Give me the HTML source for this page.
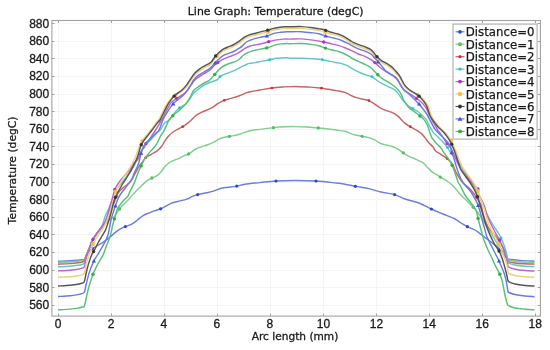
<!DOCTYPE html>
<html><head><meta charset="utf-8"><title>Line Graph</title>
<style>html,body{margin:0;padding:0;background:#fff;overflow:hidden}svg{display:block}</style>
</head><body><svg width="550" height="350" viewBox="0 0 550 350"><rect x="0" y="0" width="550" height="350" fill="#fff"/><path d="M51.9 305.5H540.4M51.9 287.5H540.4M51.9 270.5H540.4M51.9 252.5H540.4M51.9 234.5H540.4M51.9 217.5H540.4M51.9 199.5H540.4M51.9 182.5H540.4M51.9 164.5H540.4M51.9 146.5H540.4M51.9 129.5H540.4M51.9 111.5H540.4M51.9 94.5H540.4M51.9 76.5H540.4M51.9 58.5H540.4M51.9 41.5H540.4M51.9 23.5H540.4M58.5 20.5V316.1M111.5 20.5V316.1M164.5 20.5V316.1M217.5 20.5V316.1M270.5 20.5V316.1M323.5 20.5V316.1M376.5 20.5V316.1M429.5 20.5V316.1M482.5 20.5V316.1M535.5 20.5V316.1" stroke="#f5f5f5" stroke-width="1" fill="none"/><path d="M58.00 261.20C60.00 261.13 66.67 260.97 70.00 260.80C73.33 260.63 76.00 260.38 78.00 260.20C80.00 260.02 80.92 259.87 82.00 259.70C83.08 259.53 83.83 259.73 84.50 259.20C85.17 258.67 85.42 257.53 86.00 256.50C86.58 255.47 87.33 254.00 88.00 253.00C88.67 252.00 89.07 251.35 90.00 250.50C90.93 249.65 92.17 248.82 93.60 247.90C95.03 246.98 96.82 246.08 98.60 245.00C100.38 243.92 102.40 242.72 104.30 241.40C106.20 240.08 108.10 238.65 110.00 237.10C111.90 235.55 113.92 233.52 115.70 232.10C117.48 230.68 119.03 229.55 120.70 228.60C122.37 227.65 123.92 227.12 125.70 226.40C127.48 225.68 129.73 225.13 131.40 224.30C133.07 223.47 134.27 222.47 135.70 221.40C137.13 220.33 138.45 219.05 140.00 217.90C141.55 216.75 143.33 215.38 145.00 214.50C146.67 213.62 148.48 213.20 150.00 212.60C151.52 212.00 152.20 211.58 154.10 210.90C156.00 210.22 158.67 209.72 161.40 208.50C164.13 207.28 167.78 204.77 170.50 203.60C173.22 202.43 174.98 202.25 177.70 201.50C180.42 200.75 184.37 199.95 186.80 199.10C189.23 198.25 190.42 197.17 192.30 196.40C194.18 195.63 195.68 195.12 198.10 194.50C200.52 193.88 204.13 193.30 206.80 192.70C209.47 192.10 211.67 191.65 214.10 190.90C216.53 190.15 218.98 188.80 221.40 188.20C223.82 187.60 226.03 187.65 228.60 187.30C231.17 186.95 234.07 186.62 236.80 186.10C239.53 185.58 241.13 184.78 245.00 184.20C248.87 183.62 254.83 183.13 260.00 182.60C265.17 182.07 270.17 181.37 276.00 181.00C281.83 180.63 288.33 180.40 295.00 180.40C301.67 180.40 309.17 180.57 316.00 181.00C322.83 181.43 331.17 182.47 336.00 183.00C340.83 183.53 341.67 183.63 345.00 184.20C348.33 184.77 352.00 185.67 356.00 186.40C360.00 187.13 364.83 187.67 369.00 188.60C373.17 189.53 376.73 191.00 381.00 192.00C385.27 193.00 390.60 193.43 394.60 194.60C398.60 195.77 400.93 197.60 405.00 199.00C409.07 200.40 414.60 201.33 419.00 203.00C423.40 204.67 427.40 207.17 431.40 209.00C435.40 210.83 439.07 212.33 443.00 214.00C446.93 215.67 452.00 217.50 455.00 219.00C458.00 220.50 459.00 221.75 461.00 223.00C463.00 224.25 464.67 225.33 467.00 226.50C469.33 227.67 472.33 228.42 475.00 230.00C477.67 231.58 480.33 234.00 483.00 236.00C485.67 238.00 488.33 239.92 491.00 242.00C493.67 244.08 497.00 246.50 499.00 248.50C501.00 250.50 501.67 252.33 503.00 254.00C504.33 255.67 506.07 257.62 507.00 258.50C507.93 259.38 506.43 258.98 508.60 259.30C510.77 259.62 515.68 260.08 520.00 260.40C524.32 260.72 532.08 261.07 534.50 261.20" stroke="#6a7fe0" stroke-width="1.45" fill="none" stroke-linejoin="round"/><circle cx="92.4" cy="248.7" r="1.6" fill="#2a45e0"/><circle cx="125.4" cy="226.5" r="1.6" fill="#2a45e0"/><circle cx="160.6" cy="208.8" r="1.6" fill="#2a45e0"/><circle cx="197.7" cy="194.6" r="1.6" fill="#2a45e0"/><circle cx="236.8" cy="186.1" r="1.6" fill="#2a45e0"/><circle cx="276.0" cy="181.0" r="1.6" fill="#2a45e0"/><circle cx="316.0" cy="181.0" r="1.6" fill="#2a45e0"/><circle cx="355.4" cy="186.3" r="1.6" fill="#2a45e0"/><circle cx="394.6" cy="194.6" r="1.6" fill="#2a45e0"/><circle cx="431.4" cy="209.0" r="1.6" fill="#2a45e0"/><circle cx="467.4" cy="226.7" r="1.6" fill="#2a45e0"/><circle cx="499.8" cy="249.4" r="1.6" fill="#2a45e0"/><path d="M58.00 262.50C60.00 262.42 66.67 262.22 70.00 262.00C73.33 261.78 76.00 261.43 78.00 261.20C80.00 260.97 80.92 260.80 82.00 260.60C83.08 260.40 83.83 260.77 84.50 260.00C85.17 259.23 85.33 257.67 86.00 256.00C86.67 254.33 87.67 252.00 88.50 250.00C89.33 248.00 90.08 246.00 91.00 244.00C91.92 242.00 92.92 239.83 94.00 238.00C95.08 236.17 96.33 234.50 97.50 233.00C98.67 231.50 99.83 230.33 101.00 229.00C102.17 227.67 103.33 226.33 104.50 225.00C105.67 223.67 106.92 222.08 108.00 221.00C109.08 219.92 109.92 219.25 111.00 218.50C112.08 217.75 113.33 217.75 114.50 216.50C115.67 215.25 116.83 212.67 118.00 211.00C119.17 209.33 120.33 207.83 121.50 206.50C122.67 205.17 123.58 204.43 125.00 203.00C126.42 201.57 128.22 199.83 130.00 197.90C131.78 195.97 133.80 193.43 135.70 191.40C137.60 189.37 139.50 187.48 141.40 185.70C143.30 183.92 145.32 182.00 147.10 180.70C148.88 179.40 150.43 178.73 152.10 177.90C153.77 177.07 155.55 176.78 157.10 175.70C158.65 174.62 159.97 173.07 161.40 171.40C162.83 169.73 164.03 167.37 165.70 165.70C167.37 164.03 169.25 162.58 171.40 161.40C173.55 160.22 176.45 159.55 178.60 158.60C180.75 157.65 182.40 156.60 184.30 155.70C186.20 154.80 188.10 154.32 190.00 153.20C191.90 152.08 193.80 150.08 195.70 149.00C197.60 147.92 199.50 147.37 201.40 146.70C203.30 146.03 205.18 145.67 207.10 145.00C209.02 144.33 210.98 143.65 212.90 142.70C214.82 141.75 216.70 140.20 218.60 139.30C220.50 138.40 222.40 137.82 224.30 137.30C226.20 136.78 228.10 136.53 230.00 136.20C231.90 135.87 233.80 135.73 235.70 135.30C237.60 134.87 239.02 134.37 241.40 133.60C243.78 132.83 246.90 131.40 250.00 130.70C253.10 130.00 256.00 129.92 260.00 129.40C264.00 128.88 269.83 128.03 274.00 127.60C278.17 127.17 281.50 126.97 285.00 126.80C288.50 126.63 291.33 126.57 295.00 126.60C298.67 126.63 303.00 126.77 307.00 127.00C311.00 127.23 314.17 127.50 319.00 128.00C323.83 128.50 331.67 129.45 336.00 130.00C340.33 130.55 342.55 130.70 345.00 131.30C347.45 131.90 348.80 132.93 350.70 133.60C352.60 134.27 354.40 134.83 356.40 135.30C358.40 135.77 360.60 136.02 362.70 136.40C364.80 136.78 367.00 137.02 369.00 137.60C371.00 138.18 372.80 138.95 374.70 139.90C376.60 140.85 378.50 142.45 380.40 143.30C382.30 144.15 384.00 144.43 386.10 145.00C388.20 145.57 390.90 145.93 393.00 146.70C395.10 147.47 396.98 148.58 398.70 149.60C400.42 150.62 401.57 151.67 403.30 152.80C405.03 153.93 406.98 155.32 409.10 156.40C411.22 157.48 413.70 158.25 416.00 159.30C418.30 160.35 421.00 161.37 422.90 162.70C424.80 164.03 425.88 165.77 427.40 167.30C428.92 168.83 430.28 170.57 432.00 171.90C433.72 173.23 436.18 174.35 437.70 175.30C439.22 176.25 439.57 176.65 441.10 177.60C442.63 178.55 445.18 179.87 446.90 181.00C448.62 182.13 450.05 183.23 451.40 184.40C452.75 185.57 453.57 186.40 455.00 188.00C456.43 189.60 458.00 191.83 460.00 194.00C462.00 196.17 464.83 198.83 467.00 201.00C469.17 203.17 471.17 205.00 473.00 207.00C474.83 209.00 476.33 210.83 478.00 213.00C479.67 215.17 481.33 217.33 483.00 220.00C484.67 222.67 486.50 226.50 488.00 229.00C489.50 231.50 490.50 232.67 492.00 235.00C493.50 237.33 495.33 240.50 497.00 243.00C498.67 245.50 500.50 247.83 502.00 250.00C503.50 252.17 504.90 254.33 506.00 256.00C507.10 257.67 507.10 259.12 508.60 260.00C510.10 260.88 512.27 260.93 515.00 261.30C517.73 261.67 521.75 262.00 525.00 262.20C528.25 262.40 532.92 262.45 534.50 262.50" stroke="#80cf8c" stroke-width="1.45" fill="none" stroke-linejoin="round"/><circle cx="91.4" cy="243.1" r="1.65" fill="#50c060"/><circle cx="119.6" cy="208.9" r="1.65" fill="#50c060"/><circle cx="151.9" cy="178.0" r="1.65" fill="#50c060"/><circle cx="188.6" cy="153.9" r="1.65" fill="#50c060"/><circle cx="229.4" cy="136.3" r="1.65" fill="#50c060"/><circle cx="273.4" cy="127.7" r="1.65" fill="#50c060"/><circle cx="318.3" cy="127.9" r="1.65" fill="#50c060"/><circle cx="362.1" cy="136.3" r="1.65" fill="#50c060"/><circle cx="403.3" cy="152.8" r="1.65" fill="#50c060"/><circle cx="440.3" cy="177.1" r="1.65" fill="#50c060"/><circle cx="473.3" cy="207.3" r="1.65" fill="#50c060"/><circle cx="498.3" cy="244.8" r="1.65" fill="#50c060"/><path d="M58.00 264.20C60.00 264.10 66.67 263.83 70.00 263.60C73.33 263.37 76.00 263.07 78.00 262.80C80.00 262.53 80.92 262.30 82.00 262.00C83.08 261.70 83.83 262.00 84.50 261.00C85.17 260.00 85.42 257.67 86.00 256.00C86.58 254.33 87.33 252.67 88.00 251.00C88.67 249.33 89.17 248.00 90.00 246.00C90.83 244.00 91.83 241.17 93.00 239.00C94.17 236.83 95.67 234.83 97.00 233.00C98.33 231.17 99.67 229.83 101.00 228.00C102.33 226.17 103.83 224.17 105.00 222.00C106.17 219.83 107.00 217.33 108.00 215.00C109.00 212.67 110.00 210.00 111.00 208.00C112.00 206.00 112.83 205.50 114.00 203.00C115.17 200.50 116.33 195.67 118.00 193.00C119.67 190.33 122.00 188.82 124.00 187.00C126.00 185.18 128.28 184.10 130.00 182.10C131.72 180.10 132.87 177.50 134.30 175.00C135.73 172.50 137.17 169.37 138.60 167.10C140.03 164.83 141.72 162.97 142.90 161.40C144.08 159.83 144.28 158.88 145.70 157.70C147.12 156.52 149.50 155.43 151.40 154.30C153.30 153.17 155.38 152.23 157.10 150.90C158.82 149.57 160.37 148.02 161.70 146.30C163.03 144.58 163.95 142.32 165.10 140.60C166.25 138.88 167.27 137.43 168.60 136.00C169.93 134.57 171.38 133.23 173.10 132.00C174.82 130.77 177.18 129.55 178.90 128.60C180.62 127.65 181.88 127.25 183.40 126.30C184.92 125.35 186.75 123.87 188.00 122.90C189.25 121.93 189.62 121.70 190.90 120.50C192.18 119.30 193.95 117.07 195.70 115.70C197.45 114.33 199.50 113.25 201.40 112.30C203.30 111.35 205.18 110.87 207.10 110.00C209.02 109.13 210.98 108.25 212.90 107.10C214.82 105.95 216.70 104.23 218.60 103.10C220.50 101.97 222.40 101.05 224.30 100.30C226.20 99.55 227.72 99.27 230.00 98.60C232.28 97.93 235.52 97.17 238.00 96.30C240.48 95.43 242.90 94.17 244.90 93.40C246.90 92.63 247.48 92.27 250.00 91.70C252.52 91.13 256.33 90.62 260.00 90.00C263.67 89.38 268.17 88.50 272.00 88.00C275.83 87.50 279.17 87.27 283.00 87.00C286.83 86.73 290.83 86.40 295.00 86.40C299.17 86.40 303.83 86.73 308.00 87.00C312.17 87.27 315.33 87.40 320.00 88.00C324.67 88.60 331.83 89.87 336.00 90.60C340.17 91.33 342.55 91.62 345.00 92.40C347.45 93.18 348.80 94.43 350.70 95.30C352.60 96.17 354.30 96.93 356.40 97.60C358.50 98.27 361.30 98.83 363.30 99.30C365.30 99.77 366.68 99.73 368.40 100.40C370.12 101.07 371.78 102.15 373.60 103.30C375.42 104.45 377.40 106.17 379.30 107.30C381.20 108.43 382.90 109.25 385.00 110.10C387.10 110.95 389.80 111.43 391.90 112.40C394.00 113.37 395.90 114.57 397.60 115.90C399.30 117.23 400.87 119.15 402.10 120.40C403.33 121.65 403.73 122.40 405.00 123.40C406.27 124.40 407.87 125.32 409.70 126.40C411.53 127.48 414.00 128.65 416.00 129.90C418.00 131.15 420.18 132.57 421.70 133.90C423.22 135.23 423.95 136.48 425.10 137.90C426.25 139.32 427.27 140.88 428.60 142.40C429.93 143.92 431.97 145.62 433.10 147.00C434.23 148.38 433.87 149.32 435.40 150.70C436.93 152.08 440.20 153.87 442.30 155.30C444.40 156.73 446.28 157.78 448.00 159.30C449.72 160.82 451.27 162.22 452.60 164.40C453.93 166.58 454.87 170.12 456.00 172.40C457.13 174.68 458.23 176.33 459.40 178.10C460.57 179.87 461.23 181.18 463.00 183.00C464.77 184.82 468.00 187.00 470.00 189.00C472.00 191.00 473.67 193.17 475.00 195.00C476.33 196.83 477.00 198.33 478.00 200.00C479.00 201.67 480.00 202.17 481.00 205.00C482.00 207.83 482.83 213.33 484.00 217.00C485.17 220.67 486.67 224.50 488.00 227.00C489.33 229.50 490.50 230.17 492.00 232.00C493.50 233.83 495.50 236.00 497.00 238.00C498.50 240.00 499.67 241.83 501.00 244.00C502.33 246.17 504.00 248.83 505.00 251.00C506.00 253.17 506.40 255.25 507.00 257.00C507.60 258.75 507.27 260.50 508.60 261.50C509.93 262.50 512.27 262.62 515.00 263.00C517.73 263.38 521.75 263.62 525.00 263.80C528.25 263.98 532.92 264.05 534.50 264.10" stroke="#c86464" stroke-width="1.45" fill="none" stroke-linejoin="round"/><circle cx="92.7" cy="239.7" r="1.35" fill="#d03030"/><circle cx="116.4" cy="196.4" r="1.35" fill="#d03030"/><circle cx="145.7" cy="157.7" r="1.35" fill="#d03030"/><circle cx="182.7" cy="126.7" r="1.35" fill="#d03030"/><circle cx="224.3" cy="100.3" r="1.35" fill="#d03030"/><circle cx="272.0" cy="88.0" r="1.35" fill="#d03030"/><circle cx="321.5" cy="88.2" r="1.35" fill="#d03030"/><circle cx="368.9" cy="100.6" r="1.35" fill="#d03030"/><circle cx="410.3" cy="126.7" r="1.35" fill="#d03030"/><circle cx="447.2" cy="158.6" r="1.35" fill="#d03030"/><circle cx="476.6" cy="197.6" r="1.35" fill="#d03030"/><circle cx="498.9" cy="240.6" r="1.35" fill="#d03030"/><path d="M58.00 266.80C60.00 266.70 66.67 266.45 70.00 266.20C73.33 265.95 76.00 265.58 78.00 265.30C80.00 265.02 80.92 264.88 82.00 264.50C83.08 264.12 83.83 264.08 84.50 263.00C85.17 261.92 85.42 259.83 86.00 258.00C86.58 256.17 87.33 253.83 88.00 252.00C88.67 250.17 89.33 248.83 90.00 247.00C90.67 245.17 91.17 242.83 92.00 241.00C92.83 239.17 93.83 237.67 95.00 236.00C96.17 234.33 97.83 232.67 99.00 231.00C100.17 229.33 101.07 228.17 102.00 226.00C102.93 223.83 103.93 220.00 104.60 218.00C105.27 216.00 105.27 215.67 106.00 214.00C106.73 212.33 108.00 210.33 109.00 208.00C110.00 205.67 110.67 203.17 112.00 200.00C113.33 196.83 115.00 192.33 117.00 189.00C119.00 185.67 121.58 183.17 124.00 180.00C126.42 176.83 129.58 172.83 131.50 170.00C133.42 167.17 134.33 165.17 135.50 163.00C136.67 160.83 137.50 159.00 138.50 157.00C139.50 155.00 140.33 153.00 141.50 151.00C142.67 149.00 144.00 146.83 145.50 145.00C147.00 143.17 148.75 141.83 150.50 140.00C152.25 138.17 154.25 135.83 156.00 134.00C157.75 132.17 159.58 130.83 161.00 129.00C162.42 127.17 163.15 124.50 164.50 123.00C165.85 121.50 167.47 121.65 169.10 120.00C170.73 118.35 172.58 115.10 174.30 113.10C176.02 111.10 177.50 109.52 179.40 108.00C181.30 106.48 183.88 105.62 185.70 104.00C187.52 102.38 188.97 100.13 190.30 98.30C191.63 96.47 192.08 94.72 193.70 93.00C195.32 91.28 197.78 89.58 200.00 88.00C202.22 86.42 204.23 84.83 207.00 83.50C209.77 82.17 214.43 81.15 216.60 80.00C218.77 78.85 218.83 77.50 220.00 76.60C221.17 75.70 222.00 75.30 223.60 74.60C225.20 73.90 227.60 73.18 229.60 72.40C231.60 71.62 233.75 70.75 235.60 69.90C237.45 69.05 239.13 68.10 240.70 67.30C242.27 66.50 243.57 65.75 245.00 65.10C246.43 64.45 247.63 63.82 249.30 63.40C250.97 62.98 253.00 62.93 255.00 62.60C257.00 62.27 258.82 61.88 261.30 61.40C263.78 60.92 267.23 60.22 269.90 59.70C272.57 59.18 274.55 58.63 277.30 58.30C280.05 57.97 284.28 57.70 286.40 57.70C288.52 57.70 287.50 58.20 290.00 58.30C292.50 58.40 297.58 58.22 301.40 58.30C305.22 58.38 309.37 58.57 312.90 58.80C316.43 59.03 319.75 59.27 322.60 59.70C325.45 60.13 327.60 60.88 330.00 61.40C332.40 61.92 335.33 62.52 337.00 62.80C338.67 63.08 338.35 62.67 340.00 63.10C341.65 63.53 344.62 64.35 346.90 65.40C349.18 66.45 351.18 68.05 353.70 69.40C356.22 70.75 358.95 72.27 362.00 73.50C365.05 74.73 369.83 75.90 372.00 76.80C374.17 77.70 373.55 77.88 375.00 78.90C376.45 79.92 378.60 81.67 380.70 82.90C382.80 84.13 385.32 85.17 387.60 86.30C389.88 87.43 392.67 88.57 394.40 89.70C396.13 90.83 396.63 91.38 398.00 93.10C399.37 94.82 400.88 97.90 402.60 100.00C404.32 102.10 406.58 104.27 408.30 105.70C410.02 107.13 411.18 107.55 412.90 108.60C414.62 109.65 417.13 110.93 418.60 112.00C420.07 113.07 420.42 113.73 421.70 115.00C422.98 116.27 424.97 117.70 426.30 119.60C427.63 121.50 428.57 124.32 429.70 126.40C430.83 128.48 431.77 130.38 433.10 132.10C434.43 133.82 435.98 134.98 437.70 136.70C439.42 138.42 441.68 140.50 443.40 142.40C445.12 144.30 446.67 146.18 448.00 148.10C449.33 150.02 450.07 152.25 451.40 153.90C452.73 155.55 454.40 155.98 456.00 158.00C457.60 160.02 459.33 163.33 461.00 166.00C462.67 168.67 464.33 171.33 466.00 174.00C467.67 176.67 469.33 179.33 471.00 182.00C472.67 184.67 474.50 187.33 476.00 190.00C477.50 192.67 478.67 195.17 480.00 198.00C481.33 200.83 482.67 204.00 484.00 207.00C485.33 210.00 486.50 213.00 488.00 216.00C489.50 219.00 491.50 222.50 493.00 225.00C494.50 227.50 495.67 228.83 497.00 231.00C498.33 233.17 499.67 235.17 501.00 238.00C502.33 240.83 503.92 244.67 505.00 248.00C506.08 251.33 506.90 255.50 507.50 258.00C508.10 260.50 507.35 261.83 508.60 263.00C509.85 264.17 512.27 264.47 515.00 265.00C517.73 265.53 521.75 265.93 525.00 266.20C528.25 266.47 532.92 266.53 534.50 266.60" stroke="#62c6cc" stroke-width="1.45" fill="none" stroke-linejoin="round"/><circle cx="93.2" cy="238.7" r="1.45" fill="#20c8c8"/><circle cx="115.8" cy="191.1" r="1.45" fill="#20c8c8"/><circle cx="144.0" cy="147.0" r="1.45" fill="#20c8c8"/><circle cx="179.4" cy="108.0" r="1.45" fill="#20c8c8"/><circle cx="220.0" cy="76.6" r="1.45" fill="#20c8c8"/><circle cx="269.9" cy="59.7" r="1.45" fill="#20c8c8"/><circle cx="322.2" cy="59.6" r="1.45" fill="#20c8c8"/><circle cx="372.0" cy="76.8" r="1.45" fill="#20c8c8"/><circle cx="412.9" cy="108.6" r="1.45" fill="#20c8c8"/><circle cx="447.6" cy="147.5" r="1.45" fill="#20c8c8"/><circle cx="476.7" cy="191.2" r="1.45" fill="#20c8c8"/><circle cx="501.0" cy="238.0" r="1.45" fill="#20c8c8"/><path d="M58.00 270.90C60.00 270.78 66.67 270.48 70.00 270.20C73.33 269.92 76.00 269.53 78.00 269.20C80.00 268.87 80.92 268.65 82.00 268.20C83.08 267.75 83.90 267.85 84.50 266.50C85.10 265.15 85.18 262.02 85.60 260.10C86.02 258.18 86.27 257.18 87.00 255.00C87.73 252.82 89.00 249.50 90.00 247.00C91.00 244.50 91.83 242.33 93.00 240.00C94.17 237.67 95.83 234.83 97.00 233.00C98.17 231.17 99.00 230.33 100.00 229.00C101.00 227.67 102.00 226.50 103.00 225.00C104.00 223.50 105.00 222.50 106.00 220.00C107.00 217.50 108.00 213.33 109.00 210.00C110.00 206.67 111.00 203.50 112.00 200.00C113.00 196.50 113.67 192.17 115.00 189.00C116.33 185.83 118.17 183.50 120.00 181.00C121.83 178.50 124.33 176.00 126.00 174.00C127.67 172.00 128.67 170.83 130.00 169.00C131.33 167.17 132.67 164.67 134.00 163.00C135.33 161.33 136.83 160.83 138.00 159.00C139.17 157.17 140.00 154.17 141.00 152.00C142.00 149.83 142.67 148.00 144.00 146.00C145.33 144.00 147.17 142.50 149.00 140.00C150.83 137.50 152.78 134.52 155.00 131.00C157.22 127.48 160.42 122.25 162.30 118.90C164.18 115.55 164.87 113.57 166.30 110.90C167.73 108.23 169.18 105.00 170.90 102.90C172.62 100.80 174.70 99.63 176.60 98.30C178.50 96.97 180.58 96.13 182.30 94.90C184.02 93.67 185.38 92.62 186.90 90.90C188.42 89.18 190.07 86.42 191.40 84.60C192.73 82.78 192.98 81.72 194.90 80.00C196.82 78.28 200.43 75.92 202.90 74.30C205.37 72.68 207.68 71.90 209.70 70.30C211.72 68.70 213.55 66.07 215.00 64.70C216.45 63.33 216.97 63.03 218.40 62.10C219.83 61.17 221.73 60.02 223.60 59.10C225.47 58.18 227.60 57.38 229.60 56.60C231.60 55.82 233.75 55.27 235.60 54.40C237.45 53.53 239.13 52.40 240.70 51.40C242.27 50.40 243.57 49.25 245.00 48.40C246.43 47.55 247.87 46.83 249.30 46.30C250.73 45.77 251.60 45.63 253.60 45.20C255.60 44.77 258.78 44.28 261.30 43.70C263.82 43.12 266.42 42.30 268.70 41.70C270.98 41.10 272.62 40.53 275.00 40.10C277.38 39.67 280.50 39.27 283.00 39.10C285.50 38.93 286.93 39.13 290.00 39.10C293.07 39.07 297.58 38.73 301.40 38.90C305.22 39.07 309.18 39.58 312.90 40.10C316.62 40.62 320.67 41.40 323.70 42.00C326.73 42.60 328.72 43.13 331.10 43.70C333.48 44.27 335.70 44.73 338.00 45.40C340.30 46.07 342.90 46.93 344.90 47.70C346.90 48.47 348.92 49.52 350.00 50.00C351.08 50.48 350.02 49.93 351.40 50.60C352.78 51.27 356.02 53.05 358.30 54.00C360.58 54.95 363.00 55.35 365.10 56.30C367.20 57.25 369.27 58.65 370.90 59.70C372.53 60.75 373.45 61.38 374.90 62.60C376.35 63.82 377.68 65.43 379.60 67.00C381.52 68.57 384.12 70.50 386.40 72.00C388.68 73.50 391.38 74.57 393.30 76.00C395.22 77.43 396.57 78.88 397.90 80.60C399.23 82.32 400.07 84.58 401.30 86.30C402.53 88.02 403.78 89.57 405.30 90.90C406.82 92.23 408.68 93.17 410.40 94.30C412.12 95.43 413.85 96.47 415.60 97.70C417.35 98.93 419.27 100.17 420.90 101.70C422.53 103.23 424.07 104.90 425.40 106.90C426.73 108.90 427.75 111.42 428.90 113.70C430.05 115.98 431.17 118.50 432.30 120.60C433.43 122.70 434.75 124.58 435.70 126.30C436.65 128.02 437.28 129.78 438.00 130.90C438.72 132.02 438.67 131.15 440.00 133.00C441.33 134.85 444.00 139.17 446.00 142.00C448.00 144.83 450.00 146.33 452.00 150.00C454.00 153.67 456.17 160.33 458.00 164.00C459.83 167.67 461.00 169.33 463.00 172.00C465.00 174.67 467.83 177.50 470.00 180.00C472.17 182.50 474.67 185.50 476.00 187.00C477.33 188.50 477.50 187.67 478.00 189.00C478.50 190.33 478.00 192.33 479.00 195.00C480.00 197.67 482.67 201.67 484.00 205.00C485.33 208.33 485.83 211.83 487.00 215.00C488.17 218.17 489.67 221.17 491.00 224.00C492.33 226.83 493.58 229.33 495.00 232.00C496.42 234.67 498.17 237.33 499.50 240.00C500.83 242.67 501.92 245.17 503.00 248.00C504.08 250.83 505.25 254.50 506.00 257.00C506.75 259.50 507.07 261.33 507.50 263.00C507.93 264.67 507.35 265.97 508.60 267.00C509.85 268.03 512.27 268.62 515.00 269.20C517.73 269.78 521.75 270.20 525.00 270.50C528.25 270.80 532.92 270.92 534.50 271.00" stroke="#bc64cc" stroke-width="1.45" fill="none" stroke-linejoin="round"/><circle cx="93.2" cy="239.6" r="1.65" fill="#b030c8"/><circle cx="114.8" cy="189.5" r="1.65" fill="#b030c8"/><circle cx="145.8" cy="143.7" r="1.65" fill="#b030c8"/><circle cx="176.6" cy="98.3" r="1.65" fill="#b030c8"/><circle cx="217.8" cy="62.5" r="1.65" fill="#b030c8"/><circle cx="268.7" cy="41.7" r="1.65" fill="#b030c8"/><circle cx="323.7" cy="42.0" r="1.65" fill="#b030c8"/><circle cx="374.9" cy="62.6" r="1.65" fill="#b030c8"/><circle cx="416.4" cy="98.3" r="1.65" fill="#b030c8"/><circle cx="447.2" cy="143.6" r="1.65" fill="#b030c8"/><circle cx="478.0" cy="189.0" r="1.65" fill="#b030c8"/><circle cx="499.5" cy="240.0" r="1.65" fill="#b030c8"/><path d="M58.00 277.30C60.00 277.20 66.67 276.95 70.00 276.70C73.33 276.45 76.00 276.12 78.00 275.80C80.00 275.48 80.93 275.23 82.00 274.80C83.07 274.37 83.67 275.07 84.40 273.20C85.13 271.33 85.63 266.63 86.40 263.60C87.17 260.57 88.15 257.43 89.00 255.00C89.85 252.57 90.83 250.83 91.50 249.00C92.17 247.17 92.08 246.00 93.00 244.00C93.92 242.00 95.50 239.33 97.00 237.00C98.50 234.67 100.67 232.00 102.00 230.00C103.33 228.00 103.83 227.50 105.00 225.00C106.17 222.50 107.83 218.33 109.00 215.00C110.17 211.67 110.83 209.00 112.00 205.00C113.17 201.00 114.33 195.17 116.00 191.00C117.67 186.83 120.48 182.67 122.00 180.00C123.52 177.33 123.62 177.33 125.10 175.00C126.58 172.67 129.08 169.22 130.90 166.00C132.72 162.78 134.63 158.92 136.00 155.70C137.37 152.48 138.15 149.05 139.10 146.70C140.05 144.35 140.52 143.42 141.70 141.60C142.88 139.78 144.70 137.73 146.20 135.80C147.70 133.87 149.12 132.07 150.70 130.00C152.28 127.93 154.38 125.07 155.70 123.40C157.02 121.73 157.63 121.52 158.60 120.00C159.57 118.48 160.45 116.40 161.50 114.30C162.55 112.20 163.75 109.47 164.90 107.40C166.05 105.33 167.10 103.60 168.40 101.90C169.70 100.20 171.25 98.50 172.70 97.20C174.15 95.90 175.55 95.12 177.10 94.10C178.65 93.08 180.37 92.38 182.00 91.10C183.63 89.82 185.52 88.05 186.90 86.40C188.28 84.75 188.97 83.12 190.30 81.20C191.63 79.28 193.38 76.62 194.90 74.90C196.42 73.18 197.70 72.13 199.40 70.90C201.10 69.67 203.18 68.63 205.10 67.50C207.02 66.37 209.25 65.62 210.90 64.10C212.55 62.58 213.60 60.07 215.00 58.40C216.40 56.73 217.87 55.38 219.30 54.10C220.73 52.82 222.03 51.63 223.60 50.70C225.17 49.77 227.13 49.15 228.70 48.50C230.27 47.85 231.18 47.77 233.00 46.80C234.82 45.83 237.75 43.97 239.60 42.70C241.45 41.43 242.58 40.17 244.10 39.20C245.62 38.23 246.78 37.60 248.70 36.90C250.62 36.20 253.32 35.62 255.60 35.00C257.88 34.38 260.40 33.70 262.40 33.20C264.40 32.70 265.88 32.47 267.60 32.00C269.32 31.53 270.90 30.85 272.70 30.40C274.50 29.95 276.30 29.60 278.40 29.30C280.50 29.00 283.37 28.72 285.30 28.60C287.23 28.48 287.32 28.63 290.00 28.60C292.68 28.57 297.58 28.25 301.40 28.40C305.22 28.55 309.85 29.12 312.90 29.50C315.95 29.88 317.62 30.28 319.70 30.70C321.78 31.12 323.50 31.43 325.40 32.00C327.30 32.57 329.00 33.47 331.10 34.10C333.20 34.73 335.90 35.13 338.00 35.80C340.10 36.47 341.70 37.05 343.70 38.10C345.70 39.15 348.33 41.05 350.00 42.10C351.67 43.15 352.13 43.63 353.70 44.40C355.27 45.17 357.50 45.98 359.40 46.70C361.30 47.42 363.38 48.03 365.10 48.70C366.82 49.37 368.37 49.90 369.70 50.70C371.03 51.50 371.95 52.27 373.10 53.50C374.25 54.73 375.27 56.67 376.60 58.10C377.93 59.53 379.38 60.87 381.10 62.10C382.82 63.33 385.18 64.45 386.90 65.50C388.62 66.55 389.95 67.20 391.40 68.40C392.85 69.60 394.33 71.32 395.60 72.70C396.87 74.08 397.95 75.18 399.00 76.70C400.05 78.22 400.93 80.12 401.90 81.80C402.87 83.48 403.50 85.27 404.80 86.80C406.10 88.33 408.03 89.90 409.70 91.00C411.37 92.10 413.13 92.55 414.80 93.40C416.47 94.25 418.08 94.90 419.70 96.10C421.32 97.30 423.12 99.00 424.50 100.60C425.88 102.20 426.90 103.30 428.00 105.70C429.10 108.10 430.02 112.50 431.10 115.00C432.18 117.50 433.17 118.80 434.50 120.70C435.83 122.60 437.38 124.50 439.10 126.40C440.82 128.30 443.08 130.18 444.80 132.10C446.52 134.02 448.07 135.98 449.40 137.90C450.73 139.82 451.85 141.70 452.80 143.60C453.75 145.50 454.52 147.92 455.10 149.30C455.68 150.68 455.82 150.62 456.30 151.90C456.78 153.18 457.22 154.98 458.00 157.00C458.78 159.02 460.17 162.17 461.00 164.00C461.83 165.83 461.83 166.17 463.00 168.00C464.17 169.83 466.33 172.67 468.00 175.00C469.67 177.33 471.50 179.67 473.00 182.00C474.50 184.33 476.00 186.83 477.00 189.00C478.00 191.17 478.00 192.33 479.00 195.00C480.00 197.67 481.83 201.67 483.00 205.00C484.17 208.33 485.00 211.67 486.00 215.00C487.00 218.33 487.67 221.67 489.00 225.00C490.33 228.33 492.50 232.17 494.00 235.00C495.50 237.83 496.83 239.50 498.00 242.00C499.17 244.50 500.00 247.50 501.00 250.00C502.00 252.50 503.00 254.50 504.00 257.00C505.00 259.50 506.33 262.50 507.00 265.00C507.67 267.50 507.70 270.58 508.00 272.00C508.30 273.42 507.63 272.92 508.80 273.50C509.97 274.08 512.30 274.95 515.00 275.50C517.70 276.05 521.75 276.50 525.00 276.80C528.25 277.10 532.92 277.22 534.50 277.30" stroke="#f0d27a" stroke-width="1.45" fill="none" stroke-linejoin="round"/><circle cx="93.0" cy="244.0" r="2.0" fill="#f0c050"/><circle cx="115.8" cy="191.6" r="2.0" fill="#f0c050"/><circle cx="142.1" cy="141.0" r="2.0" fill="#f0c050"/><circle cx="175.7" cy="95.0" r="2.0" fill="#f0c050"/><circle cx="217.1" cy="56.1" r="2.0" fill="#f0c050"/><circle cx="268.1" cy="31.9" r="2.0" fill="#f0c050"/><circle cx="325.1" cy="31.9" r="2.0" fill="#f0c050"/><circle cx="375.8" cy="57.2" r="2.0" fill="#f0c050"/><circle cx="417.5" cy="94.7" r="2.0" fill="#f0c050"/><circle cx="451.1" cy="140.5" r="2.0" fill="#f0c050"/><circle cx="477.8" cy="191.0" r="2.0" fill="#f0c050"/><circle cx="499.0" cy="244.4" r="2.0" fill="#f0c050"/><path d="M58.00 286.00C60.00 285.88 66.67 285.58 70.00 285.30C73.33 285.02 76.00 284.65 78.00 284.30C80.00 283.95 80.95 283.65 82.00 283.20C83.05 282.75 83.57 283.45 84.30 281.60C85.03 279.75 85.68 275.10 86.40 272.10C87.12 269.10 87.73 266.45 88.60 263.60C89.47 260.75 90.62 257.27 91.60 255.00C92.58 252.73 93.43 252.00 94.50 250.00C95.57 248.00 96.75 245.33 98.00 243.00C99.25 240.67 100.75 238.17 102.00 236.00C103.25 233.83 104.50 232.17 105.50 230.00C106.50 227.83 107.08 225.83 108.00 223.00C108.92 220.17 110.00 216.67 111.00 213.00C112.00 209.33 113.00 204.17 114.00 201.00C115.00 197.83 115.67 196.67 117.00 194.00C118.33 191.33 120.12 188.17 122.00 185.00C123.88 181.83 126.40 178.17 128.30 175.00C130.20 171.83 131.80 169.22 133.40 166.00C135.00 162.78 136.72 158.92 137.90 155.70C139.08 152.48 139.63 149.05 140.50 146.70C141.37 144.35 141.92 143.42 143.10 141.60C144.28 139.78 146.10 137.73 147.60 135.80C149.10 133.87 150.52 132.07 152.10 130.00C153.68 127.93 155.78 125.07 157.10 123.40C158.42 121.73 159.03 121.52 160.00 120.00C160.97 118.48 161.85 116.40 162.90 114.30C163.95 112.20 165.17 109.50 166.30 107.40C167.43 105.30 168.47 103.50 169.70 101.70C170.93 99.90 172.37 98.03 173.70 96.60C175.03 95.17 176.27 94.25 177.70 93.10C179.13 91.95 180.77 91.12 182.30 89.70C183.83 88.28 185.57 86.32 186.90 84.60C188.23 82.88 188.97 81.32 190.30 79.40C191.63 77.48 193.38 74.82 194.90 73.10C196.42 71.38 197.70 70.33 199.40 69.10C201.10 67.87 203.18 66.83 205.10 65.70C207.02 64.57 209.25 63.82 210.90 62.30C212.55 60.78 213.60 58.27 215.00 56.60C216.40 54.93 217.87 53.58 219.30 52.30C220.73 51.02 222.03 49.83 223.60 48.90C225.17 47.97 227.13 47.35 228.70 46.70C230.27 46.05 231.18 45.97 233.00 45.00C234.82 44.03 237.75 42.17 239.60 40.90C241.45 39.63 242.58 38.37 244.10 37.40C245.62 36.43 246.78 35.80 248.70 35.10C250.62 34.40 253.32 33.82 255.60 33.20C257.88 32.58 260.40 31.90 262.40 31.40C264.40 30.90 265.88 30.67 267.60 30.20C269.32 29.73 270.90 29.05 272.70 28.60C274.50 28.15 276.30 27.80 278.40 27.50C280.50 27.20 283.37 26.92 285.30 26.80C287.23 26.68 287.32 26.83 290.00 26.80C292.68 26.77 297.58 26.45 301.40 26.60C305.22 26.75 309.85 27.32 312.90 27.70C315.95 28.08 317.62 28.48 319.70 28.90C321.78 29.32 323.50 29.63 325.40 30.20C327.30 30.77 329.00 31.67 331.10 32.30C333.20 32.93 335.90 33.33 338.00 34.00C340.10 34.67 341.70 35.25 343.70 36.30C345.70 37.35 348.33 39.25 350.00 40.30C351.67 41.35 352.13 41.83 353.70 42.60C355.27 43.37 357.50 44.18 359.40 44.90C361.30 45.62 363.38 46.23 365.10 46.90C366.82 47.57 368.37 48.10 369.70 48.90C371.03 49.70 371.95 50.47 373.10 51.70C374.25 52.93 375.27 54.87 376.60 56.30C377.93 57.73 379.38 59.07 381.10 60.30C382.82 61.53 385.18 62.65 386.90 63.70C388.62 64.75 389.95 65.40 391.40 66.60C392.85 67.80 394.33 69.52 395.60 70.90C396.87 72.28 397.95 73.38 399.00 74.90C400.05 76.42 400.95 78.30 401.90 80.00C402.85 81.70 403.47 83.48 404.70 85.10C405.93 86.72 407.75 88.45 409.30 89.70C410.85 90.95 412.45 91.58 414.00 92.60C415.55 93.62 417.08 94.47 418.60 95.80C420.12 97.13 421.77 98.95 423.10 100.60C424.43 102.25 425.50 103.30 426.60 105.70C427.70 108.10 428.62 112.50 429.70 115.00C430.78 117.50 431.77 118.80 433.10 120.70C434.43 122.60 435.98 124.50 437.70 126.40C439.42 128.30 441.68 130.18 443.40 132.10C445.12 134.02 446.67 135.98 448.00 137.90C449.33 139.82 450.45 141.70 451.40 143.60C452.35 145.50 453.12 147.92 453.70 149.30C454.28 150.68 454.33 150.33 454.90 151.90C455.47 153.47 456.35 156.42 457.10 158.70C457.85 160.98 458.75 163.72 459.40 165.60C460.05 167.48 459.90 168.10 461.00 170.00C462.10 171.90 464.33 174.67 466.00 177.00C467.67 179.33 469.50 181.67 471.00 184.00C472.50 186.33 473.83 188.67 475.00 191.00C476.17 193.33 477.17 195.67 478.00 198.00C478.83 200.33 479.17 202.17 480.00 205.00C480.83 207.83 482.00 211.67 483.00 215.00C484.00 218.33 484.83 221.67 486.00 225.00C487.17 228.33 488.50 231.67 490.00 235.00C491.50 238.33 493.50 242.33 495.00 245.00C496.50 247.67 497.83 248.83 499.00 251.00C500.17 253.17 501.00 255.17 502.00 258.00C503.00 260.83 504.17 265.00 505.00 268.00C505.83 271.00 506.42 273.75 507.00 276.00C507.58 278.25 507.17 280.17 508.50 281.50C509.83 282.83 512.25 283.33 515.00 284.00C517.75 284.67 521.75 285.17 525.00 285.50C528.25 285.83 532.92 285.92 534.50 286.00" stroke="#555555" stroke-width="1.45" fill="none" stroke-linejoin="round"/><circle cx="93.6" cy="251.5" r="1.65" fill="#333333"/><circle cx="115.4" cy="197.3" r="1.65" fill="#333333"/><circle cx="141.3" cy="144.7" r="1.65" fill="#333333"/><circle cx="174.1" cy="96.2" r="1.65" fill="#333333"/><circle cx="215.6" cy="55.9" r="1.65" fill="#333333"/><circle cx="267.6" cy="30.2" r="1.65" fill="#333333"/><circle cx="325.7" cy="30.3" r="1.65" fill="#333333"/><circle cx="377.0" cy="56.7" r="1.65" fill="#333333"/><circle cx="419.1" cy="96.2" r="1.65" fill="#333333"/><circle cx="451.7" cy="144.2" r="1.65" fill="#333333"/><circle cx="477.5" cy="196.6" r="1.65" fill="#333333"/><circle cx="499.0" cy="251.0" r="1.65" fill="#333333"/><path d="M58.00 296.50C60.00 296.38 66.67 296.12 70.00 295.80C73.33 295.48 76.00 294.97 78.00 294.60C80.00 294.23 80.92 294.03 82.00 293.60C83.08 293.17 83.83 293.43 84.50 292.00C85.17 290.57 85.18 288.32 86.00 285.00C86.82 281.68 88.12 276.03 89.40 272.10C90.68 268.17 92.35 264.25 93.70 261.40C95.05 258.55 96.28 257.07 97.50 255.00C98.72 252.93 99.58 251.50 101.00 249.00C102.42 246.50 104.75 242.67 106.00 240.00C107.25 237.33 107.67 236.33 108.50 233.00C109.33 229.67 110.08 223.83 111.00 220.00C111.92 216.17 112.92 213.33 114.00 210.00C115.08 206.67 116.50 202.50 117.50 200.00C118.50 197.50 118.58 197.17 120.00 195.00C121.42 192.83 124.00 189.67 126.00 187.00C128.00 184.33 130.77 181.00 132.00 179.00C133.23 177.00 132.30 177.60 133.40 175.00C134.50 172.40 137.32 167.05 138.60 163.40C139.88 159.75 140.03 156.32 141.10 153.10C142.17 149.88 143.50 146.45 145.00 144.10C146.50 141.75 148.17 140.92 150.10 139.00C152.03 137.08 155.10 134.10 156.60 132.60C158.10 131.10 158.05 132.10 159.10 130.00C160.15 127.90 161.52 123.00 162.90 120.00C164.28 117.00 165.88 114.48 167.40 112.00C168.92 109.52 170.47 107.00 172.00 105.10C173.53 103.20 175.08 101.93 176.60 100.60C178.12 99.27 179.58 98.43 181.10 97.10C182.62 95.77 184.17 94.50 185.70 92.60C187.23 90.70 188.97 87.80 190.30 85.70C191.63 83.60 192.37 81.72 193.70 80.00C195.03 78.28 196.58 76.73 198.30 75.40C200.02 74.07 202.10 73.13 204.00 72.00C205.90 70.87 207.87 70.10 209.70 68.60C211.53 67.10 213.40 64.65 215.00 63.00C216.60 61.35 217.87 59.98 219.30 58.70C220.73 57.42 221.88 56.23 223.60 55.30C225.32 54.37 227.75 53.82 229.60 53.10C231.45 52.38 233.13 51.78 234.70 51.00C236.27 50.22 237.72 49.25 239.00 48.40C240.28 47.55 241.17 46.97 242.40 45.90C243.63 44.83 244.58 43.13 246.40 42.00C248.22 40.87 251.02 39.87 253.30 39.10C255.58 38.33 257.72 37.97 260.10 37.40C262.48 36.83 265.30 36.37 267.60 35.70C269.90 35.03 271.72 33.97 273.90 33.40C276.08 32.83 278.42 32.58 280.70 32.30C282.98 32.02 286.05 31.80 287.60 31.70C289.15 31.60 287.70 31.70 290.00 31.70C292.30 31.70 297.58 31.50 301.40 31.70C305.22 31.90 309.85 32.52 312.90 32.90C315.95 33.28 317.62 33.50 319.70 34.00C321.78 34.50 323.50 35.33 325.40 35.90C327.30 36.47 329.00 36.87 331.10 37.40C333.20 37.93 335.70 38.33 338.00 39.10C340.30 39.87 342.90 41.13 344.90 42.00C346.90 42.87 348.92 43.73 350.00 44.30C351.08 44.87 350.02 44.63 351.40 45.40C352.78 46.17 356.02 47.95 358.30 48.90C360.58 49.85 363.00 50.25 365.10 51.10C367.20 51.95 369.37 52.95 370.90 54.00C372.43 55.05 373.17 56.17 374.30 57.40C375.43 58.63 376.37 59.87 377.70 61.40C379.03 62.93 381.03 65.08 382.30 66.60C383.57 68.12 383.67 69.12 385.30 70.50C386.93 71.88 390.20 73.60 392.10 74.90C394.00 76.20 395.37 76.78 396.70 78.30C398.03 79.82 398.95 82.10 400.10 84.00C401.25 85.90 402.27 88.18 403.60 89.70C404.93 91.22 406.75 91.95 408.10 93.10C409.45 94.25 409.87 94.78 411.70 96.60C413.53 98.42 417.20 101.92 419.10 104.00C421.00 106.08 421.72 107.27 423.10 109.10C424.48 110.93 426.10 112.87 427.40 115.00C428.70 117.13 429.57 119.42 430.90 121.90C432.23 124.38 433.70 127.62 435.40 129.90C437.10 132.18 439.38 133.90 441.10 135.60C442.82 137.30 444.17 138.38 445.70 140.10C447.23 141.82 449.35 143.93 450.30 145.90C451.25 147.87 450.83 149.95 451.40 151.90C451.97 153.85 452.93 155.32 453.70 157.60C454.47 159.88 455.23 163.13 456.00 165.60C456.77 168.07 457.47 170.17 458.30 172.40C459.13 174.63 459.88 176.90 461.00 179.00C462.12 181.10 463.33 182.83 465.00 185.00C466.67 187.17 469.42 189.83 471.00 192.00C472.58 194.17 473.33 195.83 474.50 198.00C475.67 200.17 476.92 202.17 478.00 205.00C479.08 207.83 480.17 212.00 481.00 215.00C481.83 218.00 482.33 220.50 483.00 223.00C483.67 225.50 484.33 227.67 485.00 230.00C485.67 232.33 485.67 233.83 487.00 237.00C488.33 240.17 491.50 246.00 493.00 249.00C494.50 252.00 495.00 253.00 496.00 255.00C497.00 257.00 497.67 258.00 499.00 261.00C500.33 264.00 502.83 269.83 504.00 273.00C505.17 276.17 505.33 277.00 506.00 280.00C506.67 283.00 507.50 288.92 508.00 291.00C508.50 293.08 507.83 291.92 509.00 292.50C510.17 293.08 512.33 293.92 515.00 294.50C517.67 295.08 521.75 295.63 525.00 296.00C528.25 296.37 532.92 296.58 534.50 296.70" stroke="#6a7ae4" stroke-width="1.45" fill="none" stroke-linejoin="round"/><path d="M93.9 259.0L96.1 262.6L91.7 262.6Z" fill="#4050e0"/><path d="M115.4 203.8L117.6 207.4L113.2 207.4Z" fill="#4050e0"/><path d="M141.1 151.1L143.3 154.7L138.9 154.7Z" fill="#4050e0"/><path d="M173.2 101.8L175.4 105.4L171.0 105.4Z" fill="#4050e0"/><path d="M215.2 60.8L217.4 64.4L213.0 64.4Z" fill="#4050e0"/><path d="M266.9 33.9L269.1 37.5L264.7 37.5Z" fill="#4050e0"/><path d="M325.7 34.0L327.9 37.6L323.5 37.6Z" fill="#4050e0"/><path d="M378.1 59.9L380.3 63.5L375.9 63.5Z" fill="#4050e0"/><path d="M419.1 102.0L421.3 105.6L416.9 105.6Z" fill="#4050e0"/><path d="M451.7 150.7L453.9 154.3L449.5 154.3Z" fill="#4050e0"/><path d="M478.2 203.4L480.4 207.0L476.0 207.0Z" fill="#4050e0"/><path d="M499.0 259.0L501.2 262.6L496.8 262.6Z" fill="#4050e0"/><path d="M58.00 309.80C60.00 309.68 66.67 309.38 70.00 309.10C73.33 308.82 76.00 308.45 78.00 308.10C80.00 307.75 80.92 307.43 82.00 307.00C83.08 306.57 83.50 308.33 84.50 305.50C85.50 302.67 86.92 294.25 88.00 290.00C89.08 285.75 90.12 282.77 91.00 280.00C91.88 277.23 92.13 276.13 93.30 273.40C94.47 270.67 96.38 266.67 98.00 263.60C99.62 260.53 101.67 257.77 103.00 255.00C104.33 252.23 105.17 249.17 106.00 247.00C106.83 244.83 107.25 244.00 108.00 242.00C108.75 240.00 109.75 237.67 110.50 235.00C111.25 232.33 111.83 228.75 112.50 226.00C113.17 223.25 113.75 221.17 114.50 218.50C115.25 215.83 116.08 212.25 117.00 210.00C117.92 207.75 118.83 206.67 120.00 205.00C121.17 203.33 122.67 201.50 124.00 200.00C125.33 198.50 127.00 197.43 128.00 196.00C129.00 194.57 128.95 193.58 130.00 191.40C131.05 189.22 132.87 186.23 134.30 182.90C135.73 179.57 137.35 174.43 138.60 171.40C139.85 168.37 140.73 166.88 141.80 164.70C142.87 162.52 143.62 160.43 145.00 158.30C146.38 156.17 148.17 154.27 150.10 151.90C152.03 149.53 154.88 146.68 156.60 144.10C158.32 141.52 159.33 138.32 160.40 136.40C161.47 134.48 162.12 134.18 163.00 132.60C163.88 131.02 164.68 129.00 165.70 126.90C166.72 124.80 167.87 121.92 169.10 120.00C170.33 118.08 171.28 117.12 173.10 115.40C174.92 113.68 177.90 111.60 180.00 109.70C182.10 107.80 183.98 106.10 185.70 104.00C187.42 101.90 188.97 99.38 190.30 97.10C191.63 94.82 192.08 92.20 193.70 90.30C195.32 88.40 198.12 87.00 200.00 85.70C201.88 84.40 203.38 83.45 205.00 82.50C206.62 81.55 208.03 81.40 209.70 80.00C211.37 78.60 213.40 75.87 215.00 74.10C216.60 72.33 217.87 70.75 219.30 69.40C220.73 68.05 221.88 67.00 223.60 66.00C225.32 65.00 227.60 64.18 229.60 63.40C231.60 62.62 233.88 62.08 235.60 61.30C237.32 60.52 238.62 59.70 239.90 58.70C241.18 57.70 242.17 56.23 243.30 55.30C244.43 54.37 245.42 53.75 246.70 53.10C247.98 52.45 249.62 51.87 251.00 51.40C252.38 50.93 253.28 50.72 255.00 50.30C256.72 49.88 259.20 49.33 261.30 48.90C263.40 48.47 265.50 48.28 267.60 47.70C269.70 47.12 271.72 46.03 273.90 45.40C276.08 44.77 278.42 44.22 280.70 43.90C282.98 43.58 286.05 43.53 287.60 43.50C289.15 43.47 287.70 43.70 290.00 43.70C292.30 43.70 297.58 43.35 301.40 43.50C305.22 43.65 309.85 44.18 312.90 44.60C315.95 45.02 317.62 45.42 319.70 46.00C321.78 46.58 323.30 47.43 325.40 48.10C327.50 48.77 330.02 49.40 332.30 50.00C334.58 50.60 337.00 51.03 339.10 51.70C341.20 52.37 343.08 53.13 344.90 54.00C346.72 54.87 348.92 56.23 350.00 56.90C351.08 57.57 350.02 57.25 351.40 58.00C352.78 58.75 356.02 60.35 358.30 61.40C360.58 62.45 363.00 63.25 365.10 64.30C367.20 65.35 368.87 66.03 370.90 67.70C372.93 69.37 375.47 72.53 377.30 74.30C379.13 76.07 380.00 76.97 381.90 78.30C383.80 79.63 386.62 80.97 388.70 82.30C390.78 83.63 392.68 84.87 394.40 86.30C396.12 87.73 397.82 89.45 399.00 90.90C400.18 92.35 400.72 93.48 401.50 95.00C402.28 96.52 402.57 98.02 403.70 100.00C404.83 101.98 406.58 105.00 408.30 106.90C410.02 108.80 412.15 109.95 414.00 111.40C415.85 112.85 417.73 114.23 419.40 115.60C421.07 116.97 422.67 117.98 424.00 119.60C425.33 121.22 426.45 123.22 427.40 125.30C428.35 127.38 428.93 130.00 429.70 132.10C430.47 134.20 430.85 135.98 432.00 137.90C433.15 139.82 435.08 141.90 436.60 143.60C438.12 145.30 439.97 146.72 441.10 148.10C442.23 149.48 442.07 149.93 443.40 151.90C444.73 153.87 447.67 157.72 449.10 159.90C450.53 162.08 451.03 162.92 452.00 165.00C452.97 167.08 453.85 169.45 454.90 172.40C455.95 175.35 457.45 180.60 458.30 182.70C459.15 184.80 458.88 182.95 460.00 185.00C461.12 187.05 463.17 192.00 465.00 195.00C466.83 198.00 469.17 200.50 471.00 203.00C472.83 205.50 474.83 207.50 476.00 210.00C477.17 212.50 477.33 215.33 478.00 218.00C478.67 220.67 479.00 222.33 480.00 226.00C481.00 229.67 482.67 236.00 484.00 240.00C485.33 244.00 486.67 247.00 488.00 250.00C489.33 253.00 490.83 255.50 492.00 258.00C493.17 260.50 493.75 262.42 495.00 265.00C496.25 267.58 498.33 271.00 499.50 273.50C500.67 276.00 501.08 276.42 502.00 280.00C502.92 283.58 504.08 290.92 505.00 295.00C505.92 299.08 506.83 302.70 507.50 304.50C508.17 306.30 507.75 305.22 509.00 305.80C510.25 306.38 512.33 307.43 515.00 308.00C517.67 308.57 521.75 308.90 525.00 309.20C528.25 309.50 532.92 309.70 534.50 309.80" stroke="#58c07a" stroke-width="1.45" fill="none" stroke-linejoin="round"/><circle cx="93.0" cy="274.2" r="1.7" fill="#30b040"/><circle cx="114.4" cy="218.9" r="1.7" fill="#30b040"/><circle cx="141.2" cy="165.9" r="1.7" fill="#30b040"/><circle cx="172.8" cy="115.7" r="1.7" fill="#30b040"/><circle cx="214.8" cy="74.4" r="1.7" fill="#30b040"/><circle cx="266.7" cy="47.9" r="1.7" fill="#30b040"/><circle cx="325.4" cy="48.1" r="1.7" fill="#30b040"/><circle cx="377.8" cy="74.8" r="1.7" fill="#30b040"/><circle cx="419.9" cy="116.0" r="1.7" fill="#30b040"/><circle cx="452.1" cy="165.3" r="1.7" fill="#30b040"/><circle cx="478.1" cy="218.4" r="1.7" fill="#30b040"/><circle cx="499.8" cy="274.2" r="1.7" fill="#30b040"/><rect x="51.9" y="20.5" width="488.5" height="295.6" fill="none" stroke="#a2a2a2" stroke-width="1.1"/><path d="M51.9 305.5h2.5M540.4 305.5h-2.5M51.9 287.5h2.5M540.4 287.5h-2.5M51.9 270.5h2.5M540.4 270.5h-2.5M51.9 252.5h2.5M540.4 252.5h-2.5M51.9 234.5h2.5M540.4 234.5h-2.5M51.9 217.5h2.5M540.4 217.5h-2.5M51.9 199.5h2.5M540.4 199.5h-2.5M51.9 182.5h2.5M540.4 182.5h-2.5M51.9 164.5h2.5M540.4 164.5h-2.5M51.9 146.5h2.5M540.4 146.5h-2.5M51.9 129.5h2.5M540.4 129.5h-2.5M51.9 111.5h2.5M540.4 111.5h-2.5M51.9 94.5h2.5M540.4 94.5h-2.5M51.9 76.5h2.5M540.4 76.5h-2.5M51.9 58.5h2.5M540.4 58.5h-2.5M51.9 41.5h2.5M540.4 41.5h-2.5M51.9 23.5h2.5M540.4 23.5h-2.5M58.5 316.1v-2.5M58.5 20.5v2.5M111.5 316.1v-2.5M111.5 20.5v2.5M164.5 316.1v-2.5M164.5 20.5v2.5M217.5 316.1v-2.5M217.5 20.5v2.5M270.5 316.1v-2.5M270.5 20.5v2.5M323.5 316.1v-2.5M323.5 20.5v2.5M376.5 316.1v-2.5M376.5 20.5v2.5M429.5 316.1v-2.5M429.5 20.5v2.5M482.5 316.1v-2.5M482.5 20.5v2.5M535.5 316.1v-2.5M535.5 20.5v2.5" stroke="#a0a0a0" stroke-width="1" fill="none"/><g font-family="Liberation Sans, Arial, sans-serif" font-size="12" fill="#1a1a1a" stroke="#1a1a1a" stroke-width="0.3"><text x="49.2" y="309.2" text-anchor="end">560</text><text x="49.2" y="291.6" text-anchor="end">580</text><text x="49.2" y="274.0" text-anchor="end">600</text><text x="49.2" y="256.4" text-anchor="end">620</text><text x="49.2" y="238.8" text-anchor="end">640</text><text x="49.2" y="221.2" text-anchor="end">660</text><text x="49.2" y="203.6" text-anchor="end">680</text><text x="49.2" y="186.0" text-anchor="end">700</text><text x="49.2" y="168.3" text-anchor="end">720</text><text x="49.2" y="150.7" text-anchor="end">740</text><text x="49.2" y="133.1" text-anchor="end">760</text><text x="49.2" y="115.5" text-anchor="end">780</text><text x="49.2" y="97.9" text-anchor="end">800</text><text x="49.2" y="80.3" text-anchor="end">820</text><text x="49.2" y="62.7" text-anchor="end">840</text><text x="49.2" y="45.1" text-anchor="end">860</text><text x="49.2" y="27.5" text-anchor="end">880</text><text x="58.0" y="328" text-anchor="middle">0</text><text x="111.0" y="328" text-anchor="middle">2</text><text x="163.9" y="328" text-anchor="middle">4</text><text x="216.9" y="328" text-anchor="middle">6</text><text x="269.8" y="328" text-anchor="middle">8</text><text x="323.4" y="328" text-anchor="middle">10</text><text x="376.4" y="328" text-anchor="middle">12</text><text x="429.3" y="328" text-anchor="middle">14</text><text x="482.3" y="328" text-anchor="middle">16</text><text x="535.2" y="328" text-anchor="middle">18</text></g><g font-family="DejaVu Sans, sans-serif" font-size="10.6" fill="#1a1a1a" stroke="#1a1a1a" stroke-width="0.3"><text x="275.7" y="15" text-anchor="middle" font-size="10.9">Line Graph: Temperature (degC)</text><text x="295" y="339.5" text-anchor="middle">Arc length (mm)</text><text transform="translate(15.7 170.3) rotate(-90)" text-anchor="middle" font-size="10.75">Temperature (degC)</text></g><rect x="453" y="24.1" width="84.1" height="115" fill="#fff" stroke="#b4b4b4" stroke-width="1.2"/><path d="M455.5 31.8H464.5" stroke="#6a7fe0" stroke-width="1.2"/><circle cx="460.0" cy="31.8" r="1.85" fill="#2a45e0"/><path d="M455.5 44.2H464.5" stroke="#80cf8c" stroke-width="1.2"/><circle cx="460.0" cy="44.2" r="1.9" fill="#50c060"/><path d="M455.5 56.7H464.5" stroke="#c86464" stroke-width="1.2"/><circle cx="460.0" cy="56.7" r="1.6" fill="#d03030"/><path d="M455.5 69.1H464.5" stroke="#62c6cc" stroke-width="1.2"/><circle cx="460.0" cy="69.1" r="1.7" fill="#20c8c8"/><path d="M455.5 81.6H464.5" stroke="#bc64cc" stroke-width="1.2"/><circle cx="460.0" cy="81.6" r="1.9" fill="#b030c8"/><path d="M455.5 94.0H464.5" stroke="#f0d27a" stroke-width="1.2"/><circle cx="460.0" cy="94.0" r="2.25" fill="#f0c050"/><path d="M455.5 106.5H464.5" stroke="#555555" stroke-width="1.2"/><circle cx="460.0" cy="106.5" r="1.9" fill="#333333"/><path d="M455.5 118.9H464.5" stroke="#6a7ae4" stroke-width="1.2"/><path d="M460.0 116.7L462.5 120.7L457.5 120.7Z" fill="#4050e0"/><path d="M455.5 131.4H464.5" stroke="#58c07a" stroke-width="1.2"/><circle cx="460.0" cy="131.4" r="1.95" fill="#30b040"/><g font-family="DejaVu Sans, sans-serif" font-size="11.75" fill="#1a1a1a" stroke="#1a1a1a" stroke-width="0.25"><text x="465.8" y="36.3">Distance=0</text><text x="465.8" y="48.8">Distance=1</text><text x="465.8" y="61.2">Distance=2</text><text x="465.8" y="73.6">Distance=3</text><text x="465.8" y="86.1">Distance=4</text><text x="465.8" y="98.5">Distance=5</text><text x="465.8" y="111.0">Distance=6</text><text x="465.8" y="123.4">Distance=7</text><text x="465.8" y="135.9">Distance=8</text></g></svg></body></html>
